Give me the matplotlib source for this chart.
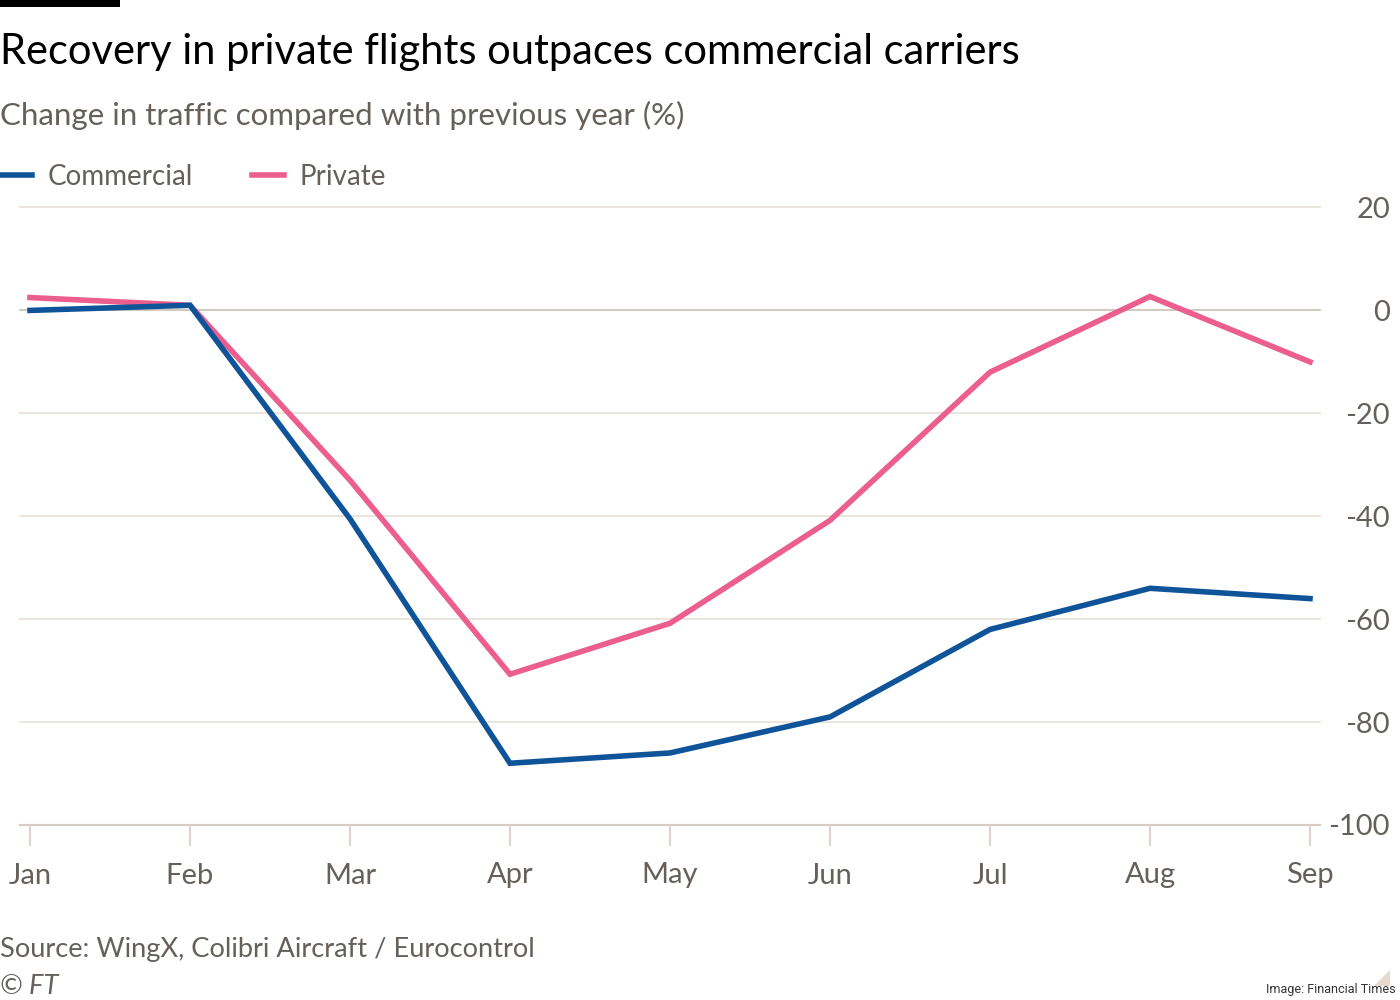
import matplotlib
matplotlib.use("Agg")
import matplotlib.pyplot as plt
from matplotlib.patches import Rectangle, Polygon

months = ["Jan", "Feb", "Mar", "Apr", "May", "Jun", "Jul", "Aug", "Sep"]
commercial = [0, 1, -40.5, -88, -86, -79, -62, -54, -56]
private = [2.5, 1, -33, -70.7, -60.8, -40.8, -12, 2.7, -10]
yticks = [20, 0, -20, -40, -60, -80, -100]

TEXT = "#66605c"
GRID = "#e9e0d8"
ZERO = "#c9bfb3"
BLUE = "#0f5499"
PINK = "#eb5e8d"
FONT = "Lato"

W, H = 1400, 1000
fig = plt.figure(figsize=(14, 10), dpi=100, facecolor="white")

def fx(px):
    return px / W

def fy(py):
    return 1 - py / H

# axes: x from 20 to 1320 px, y from 207.5 (20) to 825 (-100)
ax = fig.add_axes([fx(20), fy(825), fx(1320 - 20), (825 - 207.5) / H])
x = list(range(len(months)))
pad = 10 / 160
ax.set_xlim(-pad, len(months) - 1 + pad)
ax.set_ylim(-100, 20)

for v in yticks:
    if v == -100:
        continue
    ax.axhline(v, color=ZERO if v == 0 else GRID, lw=1.2, zorder=1, clip_on=False)
ax.axhline(-100, color="#d5ccc3", lw=1.5, zorder=1, clip_on=False)

ax.plot(x, private, color=PINK, lw=4, zorder=3, solid_joinstyle="miter", label="Private")
ax.plot(x, commercial, color=BLUE, lw=4, zorder=4, solid_joinstyle="miter", label="Commercial")

for s in ax.spines.values():
    s.set_visible(False)
ax.set_yticks(yticks)
ax.set_yticklabels([str(v) for v in yticks])
ax.yaxis.tick_right()
ax.tick_params(axis="y", length=0, pad=0, labelsize=21, labelcolor=TEXT)
for lab in ax.get_yticklabels():
    lab.set_fontfamily(FONT)
    lab.set_horizontalalignment("right")
    lab.set_x(1 + 70 / 1300)
ax.set_xticks(x)
ax.set_xticklabels(months)
ax.tick_params(axis="x", length=15, width=1.5, color="#ddd5cc", pad=12, labelsize=21, labelcolor=TEXT)
for lab in ax.get_xticklabels():
    lab.set_fontfamily(FONT)

# top black bar
fig.patches.append(Rectangle((0, fy(7)), fx(120), 7 / H, transform=fig.transFigure,
                             facecolor="black", edgecolor="none"))

fig.text(0, fy(52), "Recovery in private flights outpaces commercial carriers", fontsize=30,
         family=FONT, color="#000000", va="center", ha="left")
fig.text(0, fy(115), "Change in traffic compared with previous year (%)", fontsize=22.5,
         family=FONT, color=TEXT, va="center", ha="left")

# legend
fig.add_artist(plt.Line2D([fx(0), fx(32)], [fy(175), fy(175)], color=BLUE, lw=4,
                          transform=fig.transFigure))
fig.text(fx(48), fy(177), "Commercial", fontsize=20, family=FONT, color=TEXT, va="center", ha="left")
fig.add_artist(plt.Line2D([fx(252), fx(284)], [fy(175), fy(175)], color=PINK, lw=4,
                          transform=fig.transFigure))
fig.text(fx(300), fy(177), "Private", fontsize=20, family=FONT, color=TEXT, va="center", ha="left")

fig.text(0, fy(950), "Source: WingX, Colibri Aircraft / Eurocontrol", fontsize=19.6,
         family=FONT, color=TEXT, va="center", ha="left")
fig.text(0, fy(986), "© FT", fontsize=19.6, family=FONT, style="italic", color=TEXT,
         va="center", ha="left")
fig.text(fx(1396), fy(989), "Image: Financial Times", fontsize=9, family="Roboto",
         color="#333333", va="center", ha="right")
fig.patches.append(Polygon([(fx(1390), fy(970)), (fx(1390), fy(986)), (fx(1374), fy(986))],
                           closed=True, transform=fig.transFigure, facecolor="#e6d9ce",
                           edgecolor="none", zorder=0))

fig.savefig("out.png", dpi=100, facecolor="white")
